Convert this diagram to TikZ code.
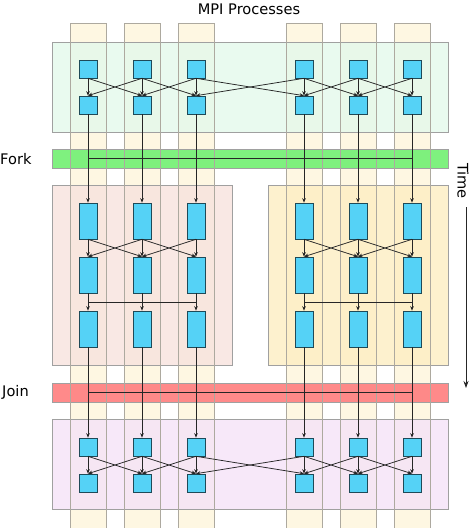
\documentclass[tikz,border=0pt]{standalone}
\usepackage{fontspec}
\setmainfont{DejaVu Sans}
\usetikzlibrary{arrows.meta,calc}
\definecolor{stripfill}{HTML}{FEF7E2}
\definecolor{stripline}{HTML}{ADA99F}
\definecolor{boxline}{HTML}{A0A0A0}
\definecolor{topfill}{HTML}{E3F9EB}
\definecolor{forkfill}{HTML}{78F078}
\definecolor{joinfill}{HTML}{FF8484}
\definecolor{leftfill}{HTML}{F7E2DD}
\definecolor{rightfill}{HTML}{FDEEC2}
\definecolor{botfill}{HTML}{F5E2F8}
\definecolor{sqfill}{HTML}{55D2F6}
\definecolor{sqline}{HTML}{1E4A58}
\definecolor{edgecol}{HTML}{262626}
\tikzset{
  stripbox/.style={fill=stripfill, draw=none, minimum width=36pt, minimum height=507pt, inner sep=0},
  stripedge/.style={draw=stripline, line width=0.7pt, minimum width=36pt, minimum height=507pt, inner sep=0},
  region/.style={draw=boxline, line width=0.7pt, fill opacity=0.8, inner sep=0},
  bar/.style={draw=boxline, line width=0.7pt, fill opacity=0.95, inner sep=0},
  sq/.style={draw=sqline, fill=sqfill, line width=0.6pt, minimum width=18pt, minimum height=18pt, inner sep=0},
  tallsq/.style={sq, minimum height=36pt},
  link/.style={draw=edgecol, line width=0.75pt, -{Stealth[length=4.5pt,width=3.6pt]}},
  plainlink/.style={draw=edgecol, line width=0.75pt},
  lbl/.style={font=\fontsize{14.6}{17}\selectfont, inner sep=0}
}
\begin{document}
\begin{tikzpicture}[x=1pt,y=-1pt]
\useasboundingbox (0,0) rectangle (474,528);
% process strips
\foreach \i/\x in {1/88,2/142,3/196,4/304,5/358,6/412}{
  \node[stripbox] (s\i) at (\x,276.5) {};
}
% regions
\node[region, fill=topfill, minimum width=396pt, minimum height=90pt] (topbox) at (250,87) {};
\node[bar, fill=forkfill, minimum width=396pt, minimum height=19pt] (forkbar) at (250,158.5) {};
\node[region, fill=leftfill, minimum width=180pt, minimum height=180pt] (leftbox) at (142,275) {};
\node[region, fill=rightfill, minimum width=180pt, minimum height=180pt] (rightbox) at (358,275) {};
\node[bar, fill=joinfill, minimum width=396pt, minimum height=19pt] (joinbar) at (250,392.5) {};
\node[region, fill=botfill, minimum width=396pt, minimum height=90pt] (botbox) at (250,464) {};
% strip outlines on top
\foreach \i/\x in {1/88,2/142,3/196,4/304,5/358,6/412}{
  \node[stripedge] (se\i) at (\x,276.5) {};
}
% labels
\node[lbl] (title) at (249,9) {MPI Processes};
\node[lbl, anchor=west] (forklbl) at (0,159) {Fork};
\node[lbl, anchor=west] (joinlbl) at (2,392) {Join};
\node[lbl, rotate=-90] (timelbl) at (463,181) {Time};
\coordinate (timestart) at (466,207);
\coordinate (timeend) at (466,388);
\draw[draw=edgecol, line width=0.8pt, -{Stealth[length=7pt,width=5pt]}] (timestart) -- (timeend);
% nodes
\foreach \i/\x in {1/88,2/142,3/196,4/304,5/358,6/412}{
  \node[sq] (A\i) at (\x,69) {};
  \node[sq] (B\i) at (\x,105) {};
  \node[tallsq] (P\i) at (\x,221) {};
  \node[tallsq] (Q\i) at (\x,275) {};
  \node[tallsq] (R\i) at (\x,329) {};
  \node[sq] (C\i) at (\x,447) {};
  \node[sq] (D\i) at (\x,483) {};
}
% top and bottom exchange
\foreach \i in {1,...,6}{
  \draw[link] (A\i.south) -- (B\i.north);
  \draw[link] (C\i.south) -- (D\i.north);
}
\foreach \i/\j in {1/2,2/3,3/4,4/5,5/6}{
  \draw[link] (A\i.south) -- (B\j.north);
  \draw[link] (A\j.south) -- (B\i.north);
  \draw[link] (C\i.south) -- (D\j.north);
  \draw[link] (C\j.south) -- (D\i.north);
}
% fork
\foreach \i in {1,...,6}{
  \draw[link] (B\i.south) -- (P\i.north);
}
\draw[plainlink] ($(B1.south)!0.5!(P1.north)$) -- ($(B6.south)!0.5!(P6.north)$);
% middle exchange
\foreach \i in {1,...,6}{
  \draw[link] (P\i.south) -- (Q\i.north);
  \draw[link] (Q\i.south) -- (R\i.north);
}
\foreach \i/\j in {1/2,2/3,4/5,5/6}{
  \draw[link] (P\i.south) -- (Q\j.north);
  \draw[link] (P\j.south) -- (Q\i.north);
}
\draw[plainlink] ($(Q1.south)!0.5!(R1.north)$) -- ($(Q3.south)!0.5!(R3.north)$);
\draw[plainlink] ($(Q4.south)!0.5!(R4.north)$) -- ($(Q6.south)!0.5!(R6.north)$);
% join
\foreach \i in {1,...,6}{
  \draw[link] (R\i.south) -- (C\i.north);
}
\draw[plainlink] ($(R1.south)!0.5!(C1.north)$) -- ($(R6.south)!0.5!(C6.north)$);
\end{tikzpicture}
\end{document}
